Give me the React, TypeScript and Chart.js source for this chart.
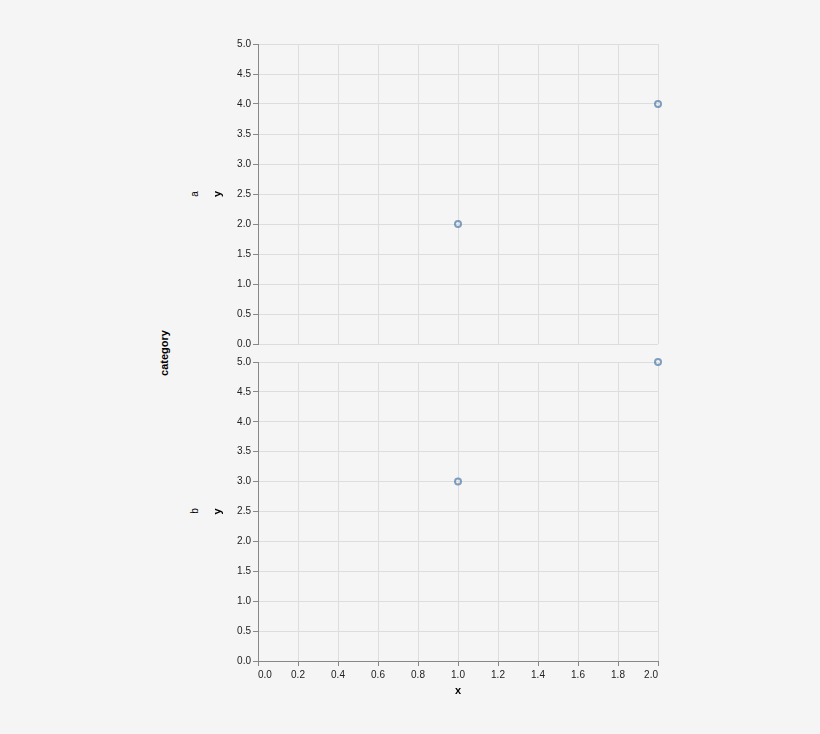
import { useEffect, useRef } from 'react';
import Chart from 'chart.js/auto';

// facet rows and their values
const rowLabels = ['a', 'b'];
const xValues = [1, 2];
const rowA = [2, 4];
const rowB = [3, 5];
const xTicks = [0, 0.2, 0.4, 0.6, 0.8, 1.0, 1.2, 1.4, 1.6, 1.8, 2.0];
const yTicks = [0, 0.5, 1, 1.5, 2, 2.5, 3, 3.5, 4, 4.5, 5];

const FONT = "'Liberation Sans', Arial, sans-serif";
const X_AXIS_H = 41;

interface PanelProps {
  values: number[];
  top: number;
  height: number;
  padTop: number;
  showX: boolean;
}

function Panel({ values, top, height, padTop, showX }: PanelProps) {
  const canvasRef = useRef<HTMLCanvasElement>(null);

  useEffect(() => {
    const canvas = canvasRef.current;
    if (!canvas) return;

    // x labels flush with the ends like vega does
    const flushLabels = {
      id: 'flushLabels',
      afterDraw(chart: any) {
        if (!showX) return;
        const sc = chart.scales.x;
        const ctx = chart.ctx;
        ctx.save();
        ctx.font = `10px ${FONT}`;
        ctx.fillStyle = '#222';
        ctx.textBaseline = 'middle';
        sc.ticks.forEach((t: any, i: number) => {
          ctx.textAlign = i === 0 ? 'left' : i === sc.ticks.length - 1 ? 'right' : 'center';
          ctx.fillText(t.value.toFixed(1), sc.getPixelForValue(t.value), chart.chartArea.bottom + 14);
        });
        ctx.restore();
      }
    };

    const chart = new Chart(canvas, {
      type: 'scatter',
      data: {
        datasets: [
          {
            data: xValues.map((x, i) => ({ x, y: values[i] })),
            pointRadius: 3,
            pointBorderWidth: 2,
            pointBackgroundColor: 'rgba(0,0,0,0)',
            pointBorderColor: 'rgba(76,120,168,0.7)',
            clip: false
          }
        ]
      },
      options: {
        responsive: false,
        animation: false,
        layout: {
          padding: { left: 207, top: padTop, right: 42, bottom: height - padTop - 300 - (showX ? X_AXIS_H : 0) }
        },
        plugins: {
          legend: { display: false },
          tooltip: { enabled: false }
        },
        scales: {
          x: {
            type: 'linear',
            min: 0,
            max: 2,
            afterBuildTicks: (s: any) => {
              s.ticks = xTicks.map((value) => ({ value }));
            },
            afterFit: (s: any) => {
              s.height = showX ? X_AXIS_H : 0;
            },
            grid: { color: '#ddd', drawTicks: showX, tickLength: 5, tickColor: '#888' },
            border: { display: showX, color: '#888' },
            ticks: { display: false },
            title: {
              display: showX,
              text: 'x',
              color: '#000',
              font: { size: 11, weight: 'bold', family: FONT },
              padding: { top: 4, bottom: 4 }
            }
          },
          y: {
            type: 'linear',
            min: 0,
            max: 5,
            afterBuildTicks: (s: any) => {
              s.ticks = yTicks.map((value) => ({ value }));
            },
            afterFit: (s: any) => {
              s.width = 51;
            },
            grid: { color: '#ddd', tickLength: 5, tickColor: '#888' },
            border: { color: '#888' },
            ticks: {
              padding: 2,
              color: '#222',
              font: { size: 10, family: FONT },
              callback: (v: any) => Number(v).toFixed(1)
            },
            title: {
              display: true,
              text: 'y',
              color: '#000',
              font: { size: 11, weight: 'bold', family: FONT },
              padding: { top: 4, bottom: 4 }
            }
          }
        }
      },
      plugins: [flushLabels]
    });

    return () => chart.destroy();
  }, [values, height, padTop, showX]);

  return (
    <canvas
      ref={canvasRef}
      width={700}
      height={height}
      style={{ position: 'absolute', left: 0, top, width: 700, height }}
    />
  );
}

function VLabel({ text, x, y, bold }: { text: string; x: number; y: number; bold?: boolean }) {
  return (
    <div
      style={{
        position: 'absolute',
        left: x,
        top: y,
        transform: 'translate(-50%, -50%) rotate(-90deg)',
        font: `${bold ? 'bold 11px' : '10px'} ${FONT}`,
        color: '#000',
        lineHeight: 1,
        whiteSpace: 'nowrap'
      }}
    >
      {text}
    </div>
  );
}

export default function App() {
  return (
    <div
      style={{
        position: 'absolute',
        left: 0,
        top: 0,
        width: 820,
        height: 734,
        background: '#f5f5f5',
        overflow: 'hidden'
      }}
    >
      <VLabel text="category" x={164} y={353} bold />
      <VLabel text={rowLabels[0]} x={195} y={194} />
      <VLabel text={rowLabels[1]} x={195} y={511} />
      <Panel values={rowA} top={0} height={354} padTop={44} showX={false} />
      <Panel values={rowB} top={354} height={380} padTop={7} showX />
    </div>
  );
}
